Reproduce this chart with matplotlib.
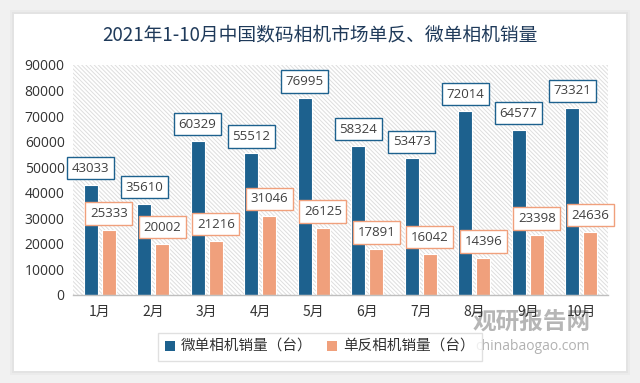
import matplotlib
matplotlib.use('Agg')
import matplotlib.pyplot as plt
from matplotlib.patches import Rectangle, Patch
import numpy as np

plt.rcParams['font.family'] = ['Noto Sans CJK SC', 'DejaVu Sans']
plt.rcParams['hatch.color'] = '#dedede'
plt.rcParams['hatch.linewidth'] = 0.7

title = '2021年1-10月中国数码相机市场单反、微单相机销量'
months = ['1月', '2月', '3月', '4月', '5月', '6月', '7月', '8月', '9月', '10月']
mirrorless = [43033, 35610, 60329, 55512, 76995, 58324, 53473, 72014, 64577, 73321]
dslr = [25333, 20002, 21216, 31046, 26125, 17891, 16042, 14396, 23398, 24636]
series_names = ['微单相机销量（台）', '单反相机销量（台）']
yticks = [0, 10000, 20000, 30000, 40000, 50000, 60000, 70000, 80000, 90000]

BLUE = '#1d618e'
ORANGE = '#f0a07c'

fig = plt.figure(figsize=(6.4, 3.83), dpi=100, facecolor='#f1f1f1')
W, H = 640.0, 383.0
# panel shadow + white panel
for grow, col in [(4, '#ebebeb'), (2, '#e3e3e3')]:
    fig.patches.append(Rectangle(((14 - grow) / W, 1 - (371 + grow) / H),
                                 (612 + 2 * grow) / W, (357 + 2 * grow) / H,
                                 transform=fig.transFigure, facecolor=col,
                                 edgecolor='none', zorder=-2))
fig.patches.append(Rectangle((14 / W, 1 - 371 / H), 612 / W, 357 / H,
                             transform=fig.transFigure, facecolor='white',
                             edgecolor='none', zorder=-1))

fig.text(532 / W, 1 - 322 / H, '观研报告网', ha='center', va='center', fontsize=17,
         fontweight='bold', color='#a9a9a9', alpha=0.85, zorder=0)
fig.text(532 / W, 1 - 346 / H, 'chinabaogao.com', ha='center', va='center', fontsize=10,
         color='#a9a9a9', alpha=0.9, family=['Open Sans', 'DejaVu Sans'], zorder=0)

ax = fig.add_axes([73 / W, 1 - 295 / H, (608 - 73) / W, (295 - 65) / H])
ax.set_zorder(1)
ax.set_facecolor('none')
ax.add_patch(Rectangle((0, 0), 1, 1, transform=ax.transAxes, facecolor='white',
                       edgecolor='#dedede', linewidth=0, hatch='\\' * 8, zorder=0))

x = np.arange(len(months))
off, bw = 0.17, 0.26
ax.bar(x - off, mirrorless, bw, color=BLUE, edgecolor='white', linewidth=0.8, zorder=3)
ax.bar(x + off, dslr, bw, color=ORANGE, edgecolor='white', linewidth=0.8, zorder=3)

for xs, vals, ec in [(x - off, mirrorless, BLUE), (x + off, dslr, ORANGE)]:
    for xi, v in zip(xs, vals):
        ax.annotate(f'{v}', (xi, v), xytext=(0, 12), textcoords='offset points',
                    ha='center', va='center', fontsize=9.5, color='#404040',
                    family=['Open Sans', 'DejaVu Sans'],
                    bbox=dict(boxstyle='square,pad=0.35', fc='white', ec=ec, lw=1),
                    zorder=5)

ax.set_xlim(-0.5, len(months) - 0.5)
ax.set_ylim(0, 90000)
ax.set_yticks(yticks, [str(t) for t in yticks], fontsize=10, color='#333333',
              family=['Open Sans', 'DejaVu Sans'])
ax.set_xticks(x, months, fontsize=10, color='#333333')
ax.tick_params(axis='y', length=0, pad=6)
ax.tick_params(axis='x', length=0, pad=7)
for s in ['top', 'right', 'left']:
    ax.spines[s].set_visible(False)
ax.spines['bottom'].set_color('#bfbfbf')
ax.spines['bottom'].set_linewidth(1)
ax.spines['bottom'].set_zorder(4)

fig.text(0.5, 1 - 35 / H, title, ha='center', va='center', fontsize=13.5,
         color='#1f3a5a')

handles = [Patch(facecolor=BLUE, edgecolor='none'), Patch(facecolor=ORANGE, edgecolor='none')]
leg = fig.legend(handles, series_names, loc='center', bbox_to_anchor=(320 / W, 1 - 347 / H),
                 ncol=2, frameon=True, fancybox=False, edgecolor='#d9d9d9',
                 fontsize=10.5, handlelength=0.7, handleheight=0.7,
                 columnspacing=1.0, handletextpad=0.4, borderpad=0.5)
leg.set_zorder(2)
for t in leg.get_texts():
    t.set_color('#333333')

fig.savefig('out.png', dpi=100, facecolor=fig.get_facecolor())
